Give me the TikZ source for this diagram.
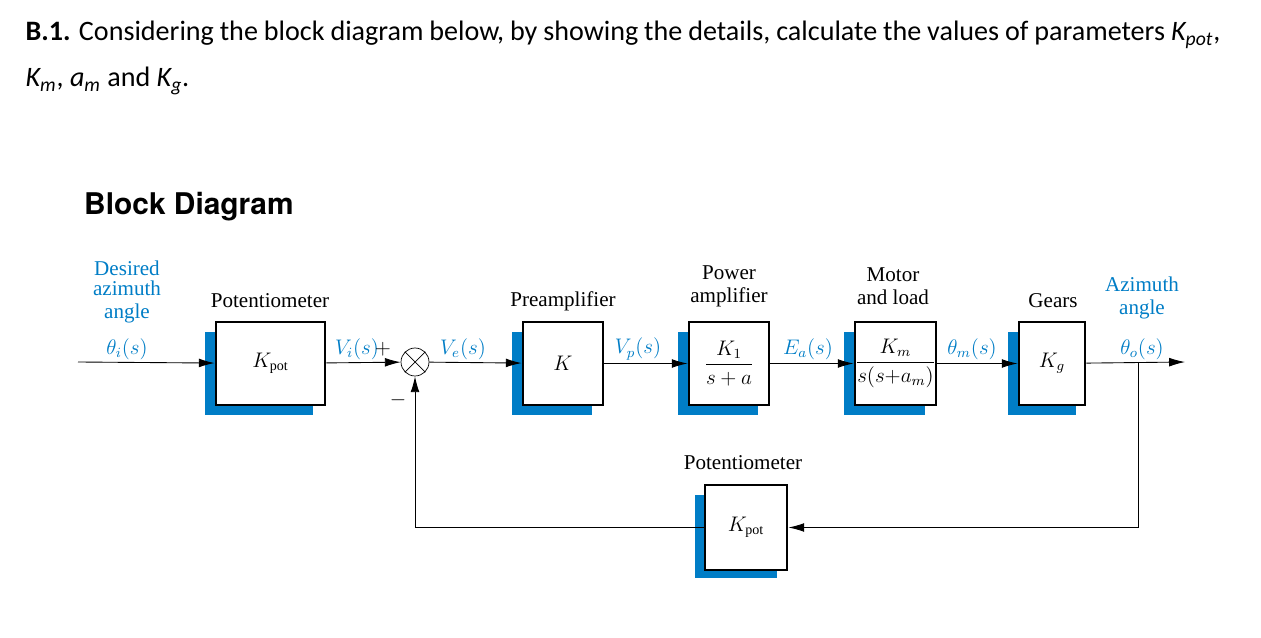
\documentclass[tikz,border=0pt]{standalone}
\usepackage{amsmath}
\usepackage{fontspec}
\setmainfont{Liberation Serif}
\newfontfamily\calfont{Carlito}
\newfontfamily\helfont{TeX Gyre Heros}
\usetikzlibrary{arrows.meta}
\definecolor{sigblue}{RGB}{0,125,198}

\begin{document}
\begin{tikzpicture}[x=0.02cm,y=-0.02cm,
  blk/.style={draw,line width=1.6pt,fill=white,inner sep=0pt,font=\large},
  shade/.style={fill=sigblue},
  sig/.style={-{Latex[length=9pt,width=5pt]},line width=0.5pt},
  lbl/.style={font=\fontsize{12}{13}\selectfont,align=center},
  blu/.style={lbl,text=sigblue}]
\useasboundingbox (0,0) rectangle (1261,638);

% The question text
\node (title) at (623,58) [text width=23.9cm,align=justify,font=\calfont\fontsize{16}{26}\selectfont]
  {\textbf{B.1.} Considering the block diagram below, by showing the details, calculate the values of parameters \textit{K\textsubscript{pot}}, \textit{K\textsubscript{m}}, \textit{a\textsubscript{m}} and \textit{K\textsubscript{g}}.};
\node (head) at (78,207) [anchor=west,font=\helfont\bfseries\fontsize{17}{20}\selectfont]{Block Diagram};

% The blocks with their blue shadows
\fill[shade] (205,332) rectangle (313,415);
\node (pot) at (270.5,363.5) [blk,minimum width=2.18cm,minimum height=1.66cm]{$K_{\text{pot}}$};
\fill[shade] (512,332) rectangle (592,415);
\node (pre) at (563,363.5) [blk,minimum width=1.6cm,minimum height=1.66cm]{$K$};
\fill[shade] (678,332) rectangle (758,415);
\node (amp) at (729,363.5) [blk,minimum width=1.6cm,minimum height=1.66cm]{$\dfrac{K_1}{s+a}$};
\fill[shade] (844,332) rectangle (925,415);
\node (mot) at (895.5,363.5) [blk,minimum width=1.62cm,minimum height=1.66cm]{$\dfrac{K_m}{s(s{+}a_m)}$};
\fill[shade] (1008,332) rectangle (1076,415);
\node (gear) at (1052,363.5) [blk,minimum width=1.32cm,minimum height=1.66cm]{$K_g$};
\fill[shade] (695,495) rectangle (777,578);
\node (fb) at (746,527.5) [blk,minimum width=1.64cm,minimum height=1.7cm]{$K_{\text{pot}}$};

% Summing junction
\node (sum) at (415,362) [draw,circle,minimum size=0.56cm,inner sep=0pt]{};
\draw (sum.north west) -- (sum.south east) (sum.north east) -- (sum.south west);

% Signals
\coordinate (in) at (78,362);
\coordinate (out) at (1185,362);
\coordinate (tap) at (1138,362);
\draw[sig] (in) -- (pot);
\draw[sig] (pot) -- (sum);
\draw[sig] (sum) -- (pre);
\draw[sig] (pre) -- (amp);
\draw[sig] (amp) -- (mot);
\draw[sig] (mot) -- (gear);
\draw[sig] (gear) -- (out);
\draw[sig] (tap) |- (fb);
\draw[sig] (fb) -| (sum);

% Labels
\node at (127,292) [blu]{Desired\\[-2pt]azimuth\\angle};
\node at (127,349) [blu]{$\theta_i(s)$};
\node at (270,301) [lbl]{Potentiometer};
\node at (357,349) [blu]{$V_i(s)$};
\node at (383,349) [lbl]{$+$};
\node at (398,400) [lbl]{$-$};
\node at (463,349) [blu]{$V_e(s)$};
\node at (563,301) [lbl]{Preamplifier};
\node at (638,349) [blu]{$V_p(s)$};
\node at (729,286) [lbl]{Power\\amplifier};
\node at (808,349) [blu]{$E_a(s)$};
\node at (893,286) [lbl]{Motor\\and load};
\node at (972,349) [blu]{$\theta_m(s)$};
\node at (1053,301) [lbl]{Gears};
\node at (1142,298) [blu]{Azimuth\\angle};
\node at (1142,349) [blu]{$\theta_o(s)$};
\node at (743,463) [lbl]{Potentiometer};
\end{tikzpicture}
\end{document}
